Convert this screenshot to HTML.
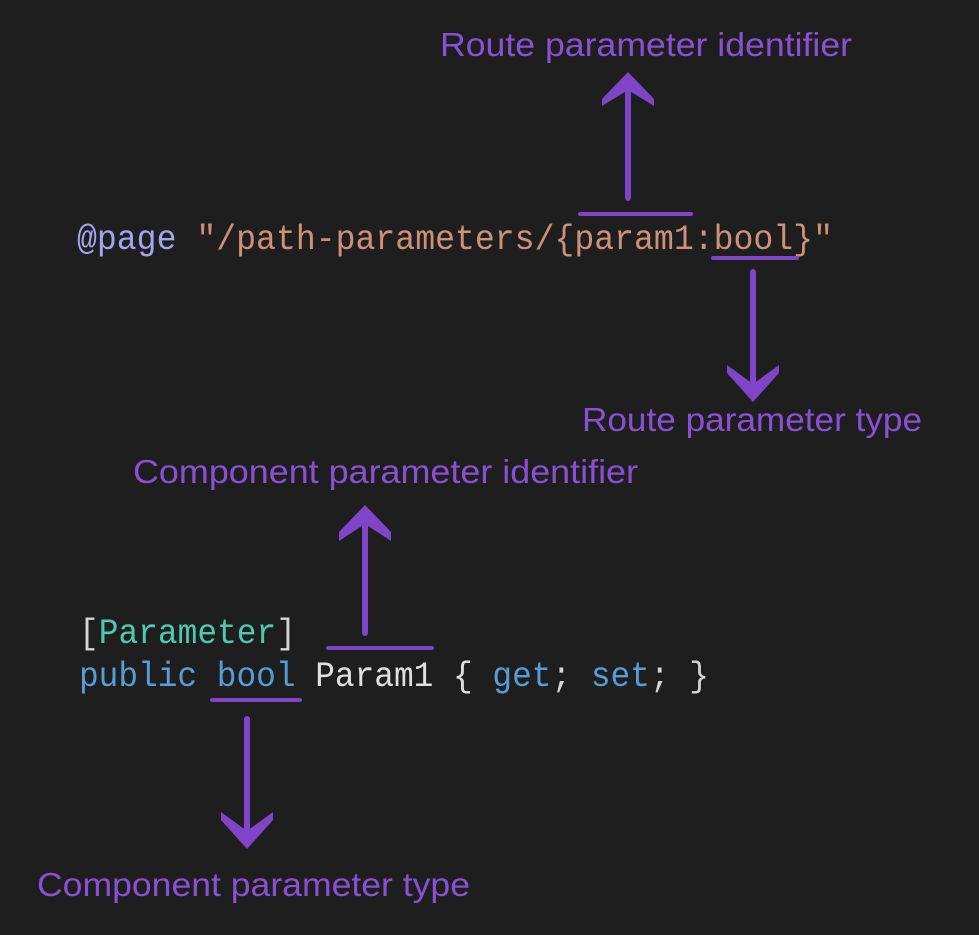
<!DOCTYPE html>
<html><head><meta charset="utf-8"><style>
html,body{margin:0;padding:0;background:#1e1e1e;}
svg{display:block}
.m{font-family:"Liberation Mono","DejaVu Sans Mono",monospace;font-size:35px;}
.l{font-family:"Liberation Sans","DejaVu Sans",sans-serif;font-size:33px;fill:#8a4fd2;}
</style></head><body>
<svg width="979" height="935" viewBox="0 0 979 935" xmlns="http://www.w3.org/2000/svg">
<rect width="979" height="935" fill="#1e1e1e"/>
<text class="l" x="440" y="56" textLength="412" lengthAdjust="spacingAndGlyphs">Route parameter identifier</text>
<text class="l" x="582" y="431" textLength="340" lengthAdjust="spacingAndGlyphs">Route parameter type</text>
<text class="l" x="133" y="483" textLength="505" lengthAdjust="spacingAndGlyphs">Component parameter identifier</text>
<text class="l" x="37" y="896" textLength="433" lengthAdjust="spacingAndGlyphs">Component parameter type</text>

<text class="m" x="77" y="249" textLength="756" lengthAdjust="spacingAndGlyphs"><tspan fill="#a3a3ee">@page</tspan><tspan fill="#ce9178"> "/path-parameters/{param1:bool}"</tspan></text>
<text class="m" x="79" y="643" textLength="217" lengthAdjust="spacingAndGlyphs"><tspan fill="#d4d4d4">[</tspan><tspan fill="#4ec9b0">Parameter</tspan><tspan fill="#d4d4d4">]</tspan></text>
<text class="m" x="79" y="686" textLength="630" lengthAdjust="spacingAndGlyphs"><tspan fill="#569cd6">public bool</tspan><tspan fill="#e0e0e0"> Param1 { </tspan><tspan fill="#569cd6">get</tspan><tspan fill="#d4d4d4">; </tspan><tspan fill="#569cd6">set</tspan><tspan fill="#d4d4d4">; }</tspan></text>

<g stroke="#7f44c8" stroke-width="4" stroke-linecap="round" fill="#7f44c8">
<line x1="580" y1="214" x2="691" y2="214"/>
<line x1="713" y1="258" x2="797" y2="258"/>
<line x1="328" y1="648" x2="432" y2="648"/>
<line x1="212" y1="700" x2="300" y2="700"/>
<line x1="628" y1="198" x2="628" y2="85" stroke-width="6"/>
<line x1="753" y1="272" x2="753" y2="390" stroke-width="6"/>
<line x1="365" y1="633" x2="365" y2="520" stroke-width="6"/>
<line x1="247" y1="719" x2="247" y2="835" stroke-width="6"/>
</g>
<g fill="#7f44c8">
<path d="M628 72 L654 99 L654 106 L628 90 L602 106 L602 99 Z"/>
<path d="M753 402 L779 373 L779 365 L753 384 L727 365 L727 373 Z"/>
<path d="M365 505 L391 532 L391 541 L365 524 L339 541 L339 532 Z"/>
<path d="M247 849 L273 820 L273 812 L247 831 L221 812 L221 820 Z"/>
</g>
</svg>
</body></html>
